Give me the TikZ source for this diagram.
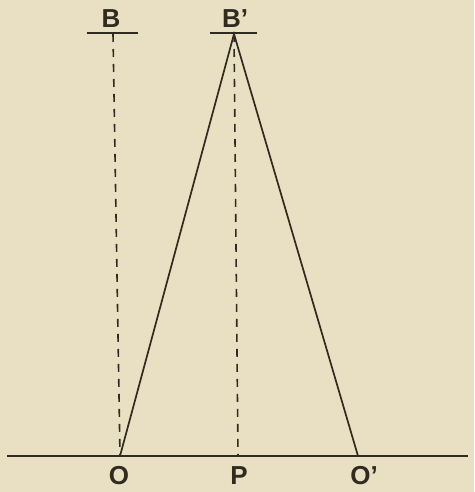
\documentclass[tikz,border=0pt]{standalone}
\usepackage{fontspec}
\setmainfont{Liberation Sans}
\definecolor{paper}{RGB}{233,223,194}
\definecolor{ink}{RGB}{48,42,32}
\begin{document}
\begin{tikzpicture}[x=1pt,y=-1pt,
  ln/.style={draw=ink,line width=1.7pt},
  dsh/.style={draw=ink,line width=1.6pt,dash pattern=on 8pt off 7pt},
  lbl/.style={text=ink,font=\bfseries\fontsize{26}{26}\selectfont,inner sep=0pt}]
\fill[paper] (0,0) rectangle (474,492);
\useasboundingbox (0,0) rectangle (474,492);
\coordinate (L) at (7,456);
\coordinate (R) at (468,456);
\coordinate (O) at (120,456);
\coordinate (P) at (238,456);
\coordinate (O2) at (358,456);
\coordinate (B) at (113,34);
\coordinate (B2) at (234,34);
\coordinate (Bl) at (87,33);
\coordinate (Br) at (138,33);
\coordinate (B2l) at (210,33);
\coordinate (B2r) at (257,33);
\draw[ln] (L) -- (R);
\draw[ln] (Bl) -- (Br);
\draw[ln] (B2l) -- (B2r);
\draw[dsh] (B) -- (O);
\draw[dsh] (B2) -- (P);
\draw[ln] (O) -- (B2) -- (O2);
\node[lbl] (tB) at (111,19) {B};
\node[lbl] (tB2) at (235,19) {B'};
\node[lbl] (tO) at (119,476) {O};
\node[lbl] (tP) at (239,476) {P};
\node[lbl] (tO2) at (364,476) {O'};
\end{tikzpicture}
\end{document}
